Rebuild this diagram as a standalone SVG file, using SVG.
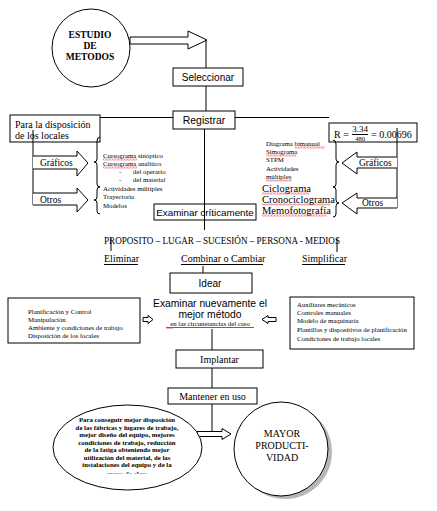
<svg xmlns="http://www.w3.org/2000/svg" width="437" height="511" viewBox="0 0 437 511">
<style>
.ln{stroke:#000;stroke-width:1;fill:none}
.box{fill:#fff;stroke:#000;stroke-width:1}
.blk{fill:#fff;stroke:#000;stroke-width:1}
.sans{font-family:"Liberation Sans",Arial,sans-serif;fill:#000}
.serif{font-family:"Liberation Serif","Times New Roman",serif;fill:#000}
.tiny{font-family:"Liberation Serif","Times New Roman",serif;font-size:6.8px;fill:#000}
.wave{fill:url(#wv)}
</style>
<defs>
<pattern id="wv" width="3" height="2" patternUnits="userSpaceOnUse">
<path d="M0 1.6 L0.75 0.4 L1.5 1.6 L2.25 0.4 L3 1.6" stroke="#e03030" stroke-width="0.6" fill="none"/>
</pattern>
<clipPath id="elc"><rect x="40" y="400" width="180" height="73.5"/></clipPath>
</defs>
<rect width="437" height="511" fill="#fff"/>

<g id="connectors">
<polygon class="blk" points="130,37 188,37 188,31 207,40 188,49 188,44 130,44"/>
<line class="ln" x1="206" y1="40" x2="206" y2="68"/>
<line class="ln" x1="206" y1="86" x2="206" y2="111"/>
<line class="ln" x1="100" y1="117.5" x2="173" y2="117.5"/>
<line class="ln" x1="235" y1="117.5" x2="329" y2="117.5"/>
<line class="ln" x1="204.5" y1="129" x2="204.5" y2="230"/>
<line class="ln" x1="33" y1="128" x2="33" y2="205"/>
<line class="ln" x1="397" y1="123" x2="397" y2="208"/>
<line class="ln" x1="111" y1="238" x2="111" y2="251"/>
<line class="ln" x1="337" y1="238" x2="337" y2="252"/>
<line class="ln" x1="203" y1="266" x2="203" y2="273"/>
<line class="ln" x1="212" y1="329" x2="212" y2="350"/>
<line class="ln" x1="212" y1="368" x2="212" y2="388"/>
<line class="ln" x1="212" y1="404" x2="212" y2="431.5"/>
<polygon class="blk" points="143,317.5 148,317.5 148,315.5 153,319.5 148,323.5 148,321.5 143,321.5"/>
<polygon class="blk" points="276,317.5 268,317.5 268,315.5 262,319.5 268,323.5 268,321.5 276,321.5"/>
<polygon class="blk" points="197,431.5 222,431.5 222,428.5 231,434 222,439.5 222,436.5 197,436.5"/>
</g>

<g id="estudio">
<circle cx="91" cy="48" r="39" class="box"/>
<g class="serif" font-size="9.5" font-weight="bold" text-anchor="middle">
<text x="90" y="38">ESTUDIO</text>
<text x="90" y="49">DE</text>
<text x="90" y="60">METODOS</text>
</g>
</g>

<g id="seleccionar">
<rect x="173" y="68" width="70" height="18" class="box"/>
<text x="208" y="81" class="sans" font-size="10" text-anchor="middle">Seleccionar</text>
</g>

<g id="registrar">
<rect x="173" y="111" width="62" height="18" class="box"/>
<text x="204" y="124" class="sans" font-size="10.5" text-anchor="middle">Registrar</text>
</g>

<g id="disposicion">
<rect x="10" y="115" width="90" height="27" class="box"/>
<text x="15" y="128" class="serif" font-size="10">Para la disposición</text>
<text x="15" y="139" class="serif" font-size="10">de los locales</text>
<line class="ln" x1="33" y1="130" x2="33" y2="142"/>
</g>

<g id="graficos-izq">
<path class="blk" d="M33,156 L77,156 L77,151 L88,163 L77,176 L77,169 L33,169"/>
<text x="40" y="166" class="serif" font-size="9.5">Gráficos</text>
</g>
<g id="otros-izq">
<path class="blk" d="M33,193 L77,193 L77,188 L88,200 L77,212 L77,205 L33,205"/>
<text x="40" y="203" class="serif" font-size="9.5">Otros</text>
</g>

<g id="lista-izq">
<path class="ln" d="M100,137 Q97,137 97,141 L97,159 Q97,162 94,162 Q97,162 97,165 L97,184 Q97,187 100,187"/>
<path class="ln" d="M100,187 Q97,187 97,190 L97,197 Q97,200 94,200 Q97,200 97,203 L97,211 Q97,214 100,214"/>
<text x="103" y="158" class="tiny">Cursograma sinóptico</text>
<rect x="103" y="158.5" width="34" height="2" class="wave"/>
<text x="103" y="166" class="tiny">Cursograma analítico</text>
<rect x="103" y="166.5" width="34" height="2" class="wave"/>
<text x="119" y="174" class="tiny">-</text>
<text x="133" y="174" class="tiny">del operario</text>
<text x="119" y="182" class="tiny">-</text>
<text x="133" y="182" class="tiny">del material</text>
<text x="103" y="191" class="tiny">Actividades múltiples</text>
<text x="103" y="199" class="tiny">Trayectoria</text>
<text x="103" y="208" class="tiny">Modelos</text>
</g>

<g id="examinar">
<rect x="154" y="204" width="102" height="16" class="box"/>
<text x="205" y="216" class="sans" font-size="9.8" text-anchor="middle">Examinar críticamente</text>
<line class="ln" x1="204.5" y1="204" x2="204.5" y2="220"/>
</g>

<g id="formula">
<rect x="329" y="123" width="88" height="19" class="box"/>
<text x="334" y="138" class="serif" font-size="10">R =</text>
<text x="360" y="132" class="serif" font-size="9" text-anchor="middle">3.34</text>
<line class="ln" x1="352" y1="134.5" x2="368" y2="134.5"/>
<text x="360" y="141" class="serif" font-size="6.5" text-anchor="middle">480</text>
<text x="371" y="138" class="serif" font-size="10">= 0.00696</text>
<line class="ln" x1="397" y1="128" x2="397" y2="142"/>
</g>

<g id="lista-der">
<path class="ln" d="M333,140 Q336,140 336,144 L336,159 Q336,162 339,162 Q336,162 336,165 L336,184 Q336,187 333,187"/>
<path class="ln" d="M333,187 Q336,187 336,190 L336,200 Q336,203 339,203 Q336,203 336,206 L336,214 Q336,217 333,217"/>
<g class="tiny" font-size="6.6">
<text x="266" y="146">Diagrama bimanual</text>
<text x="266" y="154">Simograma</text>
<text x="266" y="162">STPM</text>
<text x="266" y="171">Actividades</text>
<text x="266" y="179">múltiples</text>
</g>
<rect x="295" y="146.5" width="30" height="2" class="wave"/>
<rect x="266" y="154.5" width="30" height="2" class="wave"/>
<rect x="266" y="179.5" width="26" height="2" class="wave"/>
<g class="serif" font-size="10.5">
<text x="262" y="192">Ciclograma</text>
<text x="262" y="203">Cronociclograma</text>
<text x="262" y="214">Memofotografía</text>
</g>
<rect x="262" y="192.5" width="47" height="2" class="wave"/>
<rect x="262" y="203.5" width="68" height="2" class="wave"/>
<rect x="262" y="214.5" width="65" height="2" class="wave"/>
</g>

<g id="graficos-der">
<path class="blk" d="M397,157 L357,157 L357,152 L342,163 L357,174 L357,168 L397,168"/>
<text x="359" y="166" class="serif" font-size="9.5">Gráficos</text>
</g>
<g id="otros-der">
<path class="blk" d="M397,198 L357,198 L357,193 L342,203 L357,214 L357,208 L397,208"/>
<text x="362" y="206" class="serif" font-size="9.5">Otros</text>
</g>

<g id="proposito">
<text x="104" y="244" class="serif" font-size="10" textLength="236" lengthAdjust="spacingAndGlyphs">PROPOSITO  – LUGAR – SUCESIÓN – PERSONA -  MEDIOS</text>
</g>
<g id="eliminar">
<text x="104" y="262" class="serif" font-size="10">Eliminar</text>
<line class="ln" x1="104" y1="264.5" x2="138" y2="264.5"/>
</g>
<g id="combinar">
<text x="181" y="262" class="serif" font-size="10">Combinar o Cambiar</text>
<line class="ln" x1="181" y1="264.5" x2="263" y2="264.5"/>
</g>
<g id="simplificar">
<text x="302" y="262" class="serif" font-size="10">Simplificar</text>
<line class="ln" x1="302" y1="264.5" x2="345" y2="264.5"/>
</g>

<g id="idear">
<rect x="170" y="273" width="82" height="20" class="box"/>
<text x="210" y="287" class="sans" font-size="10" text-anchor="middle">Idear</text>
</g>

<g id="examinar-nuevamente">
<text x="210" y="307" class="sans" font-size="10.3" text-anchor="middle">Examinar nuevamente el</text>
<text x="210" y="318" class="sans" font-size="10.3" text-anchor="middle">mejor método</text>
<text x="210" y="326" class="tiny" font-size="6.2" text-anchor="middle">en las circunstancias del caso</text>
<line x1="166" y1="327.5" x2="254" y2="327.5" stroke="#000" stroke-width="0.6"/>
<rect x="166" y="327" width="7" height="2" class="wave"/>
</g>

<g id="caja-izq">
<rect x="8" y="298" width="132" height="45" class="box"/>
<g class="tiny" font-size="6.9">
<text x="28" y="314">Planificación y Control</text>
<text x="28" y="322">Manipulación</text>
<text x="28" y="330">Ambiente y condiciones de trabajo</text>
<text x="28" y="338">Disposición de los locales</text>
</g>
</g>

<g id="caja-der">
<rect x="290" y="297" width="124" height="52" class="box"/>
<g class="tiny" font-size="6.2">
<text x="297" y="307">Auxiliares mecánicos</text>
<text x="297" y="315">Controles manuales</text>
<text x="297" y="323">Modelo de maquinaria</text>
<text x="297" y="332">Plantillas y dispositivos de planificación</text>
<text x="297" y="341">Condiciones de trabajo locales</text>
</g>
</g>

<g id="implantar">
<rect x="176" y="350" width="87" height="18" class="box"/>
<text x="219.5" y="363" class="serif" font-size="10" text-anchor="middle">Implantar</text>
</g>

<g id="mantener">
<rect x="168" y="388" width="89" height="16" class="box"/>
<text x="212.5" y="400" class="serif" font-size="10" text-anchor="middle">Mantener en uso</text>
</g>

<g id="objetivo">
<ellipse cx="127.5" cy="447.5" rx="74.5" ry="42.5" class="box"/>
<g class="tiny" font-size="5.7" font-weight="bold" text-anchor="middle" clip-path="url(#elc)">
<text x="127" y="422">Para conseguir  mejor  disposición</text>
<text x="127" y="429.5">de las fábricas y lugares de trabajo,</text>
<text x="127" y="437">mejor diseño del equipo, mejores</text>
<text x="127" y="444.5">condiciones de trabajo, reducción</text>
<text x="127" y="452">de la fatiga obteniendo mejor</text>
<text x="127" y="459.5">utilización del material, de las</text>
<text x="127" y="467">instalaciones del equipo y de la</text>
<text x="127" y="475.5">mano de obra</text>
</g>
</g>

<g id="mayor">
<circle cx="285" cy="452" r="47" fill="#999" opacity="0.7"/>
<circle cx="281" cy="449" r="47" class="box"/>
<g class="serif" font-size="10" text-anchor="middle">
<text x="282" y="437">MAYOR</text>
<text x="282" y="449">PRODUCTI-</text>
<text x="282" y="461">VIDAD</text>
</g>
</g>
</svg>
